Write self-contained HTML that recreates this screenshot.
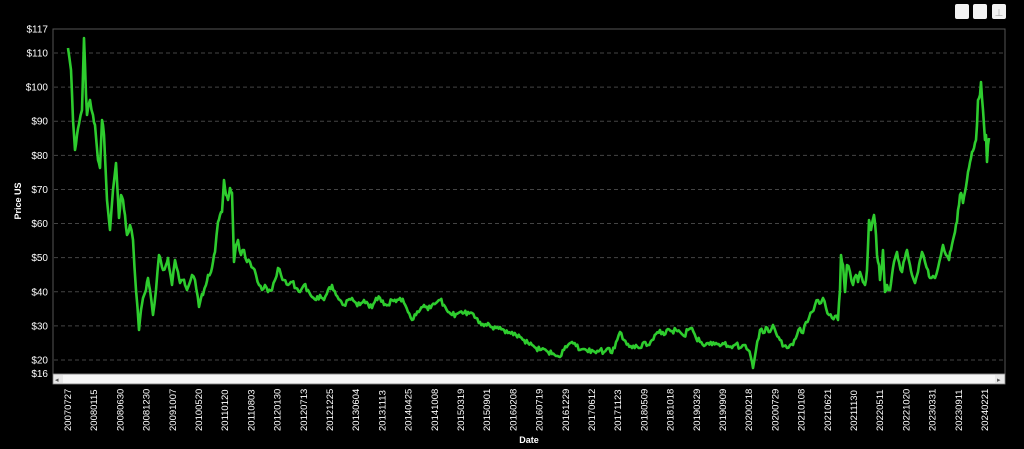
<!DOCTYPE html>
<html><head><meta charset="utf-8"><style>
html,body{margin:0;padding:0;background:#000;}
svg{display:block;font-family:"Liberation Sans",sans-serif;}
</style></head><body>
<svg id="s" width="1024" height="449" xmlns="http://www.w3.org/2000/svg">
<rect width="1024" height="449" fill="#000"/>
<rect x="53" y="29" width="952" height="345" fill="#000" stroke="#555" stroke-width="1"/>
<g id="grid" stroke="#444" stroke-dasharray="4,3" stroke-width="1"></g>
<g id="ylab" fill="#fff" font-size="10" text-anchor="end"></g>
<text transform="translate(21,201) rotate(-90)" fill="#fff" font-size="9" font-weight="bold" text-anchor="middle">Price US</text>
<polyline id="line" fill="none" stroke="#2ecc2e" stroke-width="2.6" stroke-linejoin="round"/>
<rect x="53" y="374" width="952" height="10" fill="#e8e8e8" stroke="#888" stroke-width="0.8"/>
<rect x="63" y="375" width="932" height="8" fill="#f6f6f6"/>
<text x="55" y="382" font-size="7" fill="#555">◂</text>
<text x="997" y="382" font-size="7" fill="#555">▸</text>
<g id="xlab" fill="#fff" font-size="9.5"></g>
<text x="529" y="443" fill="#fff" font-size="9" font-weight="bold" text-anchor="middle">Date</text>
<rect x="955" y="4" width="14" height="15" rx="2" fill="#f2f2f2"/>
<rect x="973" y="4" width="14" height="15" rx="2" fill="#f2f2f2"/>
<rect x="992" y="4" width="14" height="15" rx="2" fill="#f2f2f2"/>
<text x="999" y="16" font-size="10" fill="#aaa" text-anchor="middle">⊥</text>
</svg>
<script>
var NS="http://www.w3.org/2000/svg";
function el(n,a,p,t){var e=document.createElementNS(NS,n);for(var k in a)e.setAttribute(k,a[k]);if(t)e.textContent=t;document.getElementById(p).appendChild(e);}
function py(v){return 53+(110-v)*3.411;}
[20,30,40,50,60,70,80,90,100,110].forEach(function(v){var y=py(v);el("line",{x1:54,x2:1004,y1:y,y2:y},"grid");el("text",{x:48,y:y+3.5},"ylab","$"+v);});
el("text",{x:48,y:32.5},"ylab","$117");el("text",{x:48,y:377},"ylab","$16");
var labs=["20070727","20080115","20080630","20081230","20091007","20100520","20110120","20110803","20120130","20120713","20121225","20130604","20131113","20140425","20141008","20150319","20150901","20160208","20160719","20161229","20170612","20171123","20180509","20181018","20190329","20190909","20200218","20200729","20210108","20210621","20211130","20220511","20221020","20230331","20230911","20240221"];
labs.forEach(function(l,i){var x=71+i*26.2;el("text",{transform:"translate("+x+",431) rotate(-90)"},"xlab",l);});
var P=[[68,48],[71,70],[73,120],[75,150],[77,135],[79,124],[82,110],[84,38],[86,95],[87,115],[90,100],[93,115],[95,125],[98,160],[100,168],[102,120],[104,135],[107,200],[110,230],[113,190],[116,163],[119,218],[121,195],[123,200],[125,215],[127,235],[130,225],[133,240],[136,290],[139,330],[141,310],[143,298],[146,290],[148,278],[150,290],[153,315],[156,290],[159,255],[161,262],[163,270],[166,265],[168,258],[170,272],[172,285],[175,260],[178,272],[180,283],[183,280],[185,285],[187,290],[190,282],[192,275],[195,280],[199,307],[201,298],[203,295],[206,285],[208,275],[211,272],[213,262],[215,252],[218,222],[220,215],[222,212],[224,180],[226,195],[228,200],[230,188],[232,193],[234,262],[236,245],[238,240],[241,255],[244,250],[247,262],[250,262],[253,268],[256,275],[259,285],[262,290],[265,285],[268,292],[272,290],[275,280],[278,268],[281,275],[284,280],[288,285],[292,282],[296,288],[300,292],[304,285],[308,290],[312,297],[316,300],[320,295],[324,300],[328,290],[332,285],[336,295],[340,300],[344,305],[348,300],[352,298],[356,303],[360,305],[364,300],[368,304],[372,308],[376,298],[380,298],[384,305],[388,305],[392,300],[396,302],[400,298],[404,303],[408,312],[412,320],[416,315],[420,310],[424,305],[428,310],[432,305],[436,303],[440,300],[444,305],[448,312],[452,315],[456,314],[460,312],[464,313],[468,312],[472,313],[476,318],[480,322],[484,326],[488,323],[492,327],[496,328],[500,327],[504,330],[508,333],[512,332],[516,335],[520,337],[524,340],[528,343],[532,345],[536,348],[540,350],[544,349],[548,352],[552,354],[556,356],[560,357],[564,350],[568,345],[572,342],[576,346],[580,350],[584,349],[588,352],[592,350],[596,353],[600,350],[604,352],[608,348],[612,353],[616,342],[620,332],[624,340],[628,344],[632,348],[636,345],[640,348],[644,342],[648,345],[652,340],[656,334],[660,330],[664,335],[668,329],[672,331],[676,330],[680,332],[684,336],[688,330],[692,328],[696,338],[700,342],[704,346],[708,343],[712,345],[716,343],[720,346],[724,344],[728,346],[732,348],[736,344],[740,348],[744,345],[748,350],[751,358],[753,368],[756,350],[760,330],[763,333],[766,327],[770,332],[773,325],[776,333],[780,340],[784,346],[787,348],[790,345],[793,345],[797,335],[800,328],[803,333],[806,322],[809,318],[812,312],[815,305],[818,300],[821,303],[823,298],[826,308],[829,315],[832,318],[835,316],[838,320],[840,290],[841,255],[843,265],[845,292],[847,265],[850,272],[853,285],[856,275],[858,282],[860,272],[863,282],[865,285],[867,270],[869,220],[871,230],[874,215],[876,235],[877,255],[879,265],[880,280],[882,265],[883,250],[885,292],[887,285],[890,290],[892,275],[894,262],[897,252],[899,262],[902,272],[905,258],[907,250],[910,265],[912,275],[915,283],[918,272],[920,260],[922,252],[925,262],[928,270],[930,278],[933,276],[935,278],[938,268],[941,255],[943,245],[946,255],[949,260],[951,250],[953,240],[955,232],[957,222],[958,210],[960,195],[961,193],[963,203],[965,192],[967,180],[969,168],[971,158],[972,152],[974,148],[976,140],[977,125],[978,100],[980,95],[981,82],[982,98],[983,110],[984,125],[985,140],[986,135],[987,162],[988,145],[989,138]];
var pts=[];
for(var i=0;i<P.length-1;i++){var a=P[i],b=P[i+1];var n=Math.max(1,Math.round((b[0]-a[0])/1.3));for(var j=0;j<n;j++){var t=j/n;var x=a[0]+(b[0]-a[0])*t,y=a[1]+(b[1]-a[1])*t;var nz=(Math.sin(x*7.3)*1.6+Math.sin(x*3.1)*1.2)*(j?1:0);pts.push(x.toFixed(1)+","+(y+nz).toFixed(1));}}
pts.push(P[P.length-1].join(","));
document.getElementById("line").setAttribute("points",pts.join(" "));
</script>
</body></html>
